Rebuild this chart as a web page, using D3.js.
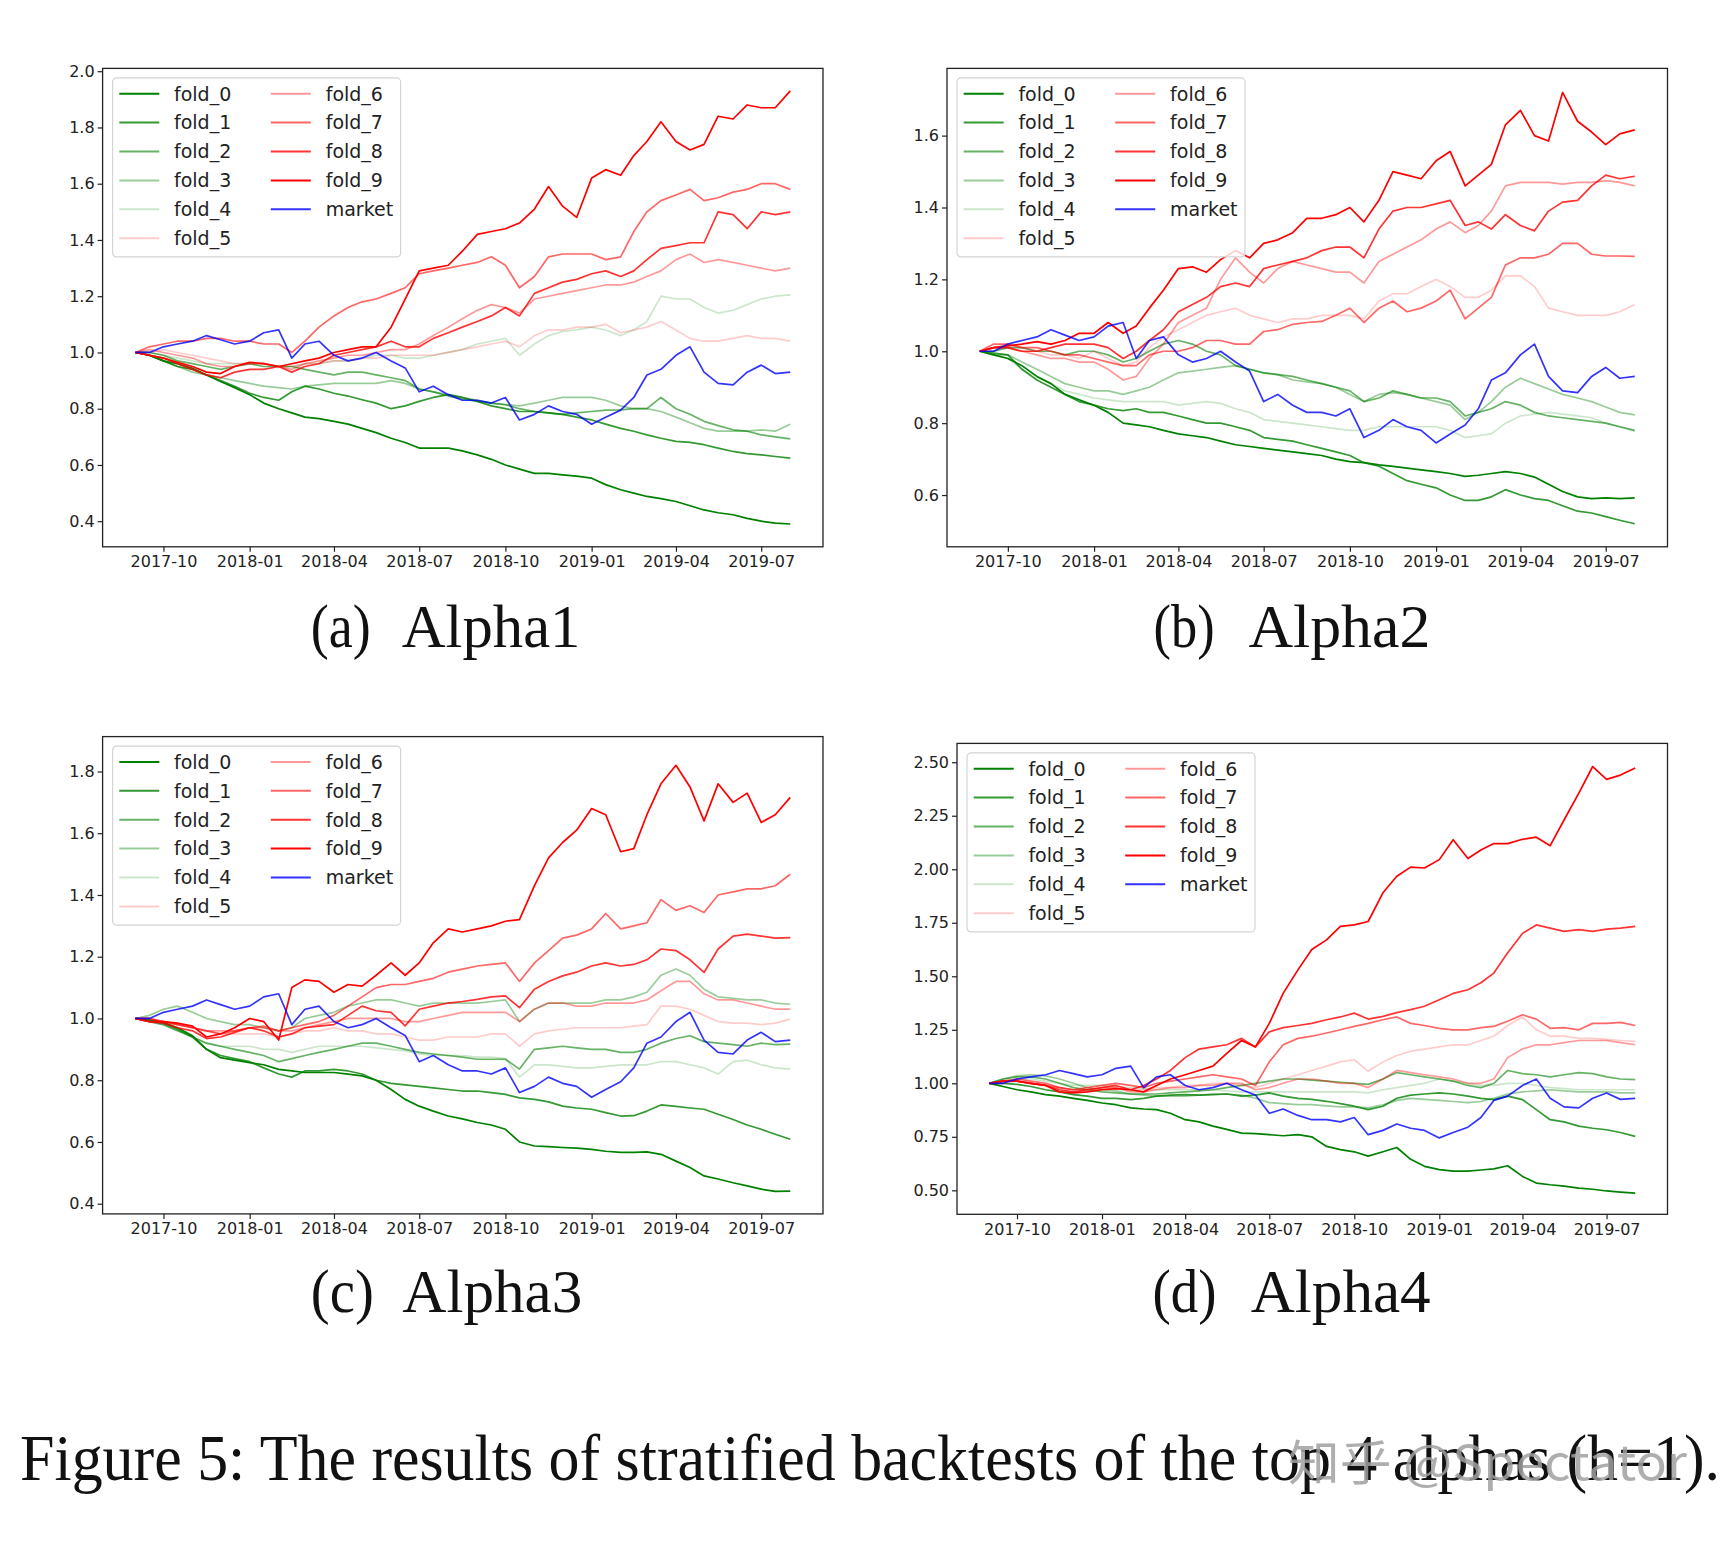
<!DOCTYPE html>
<html>
<head>
<meta charset="utf-8">
<script src="https://cdn.jsdelivr.net/npm/d3@7"></script>
<style>
  body { margin: 0; background: #fff; }
</style>
</head>
<body>
<div id="chart"></div>
<script>
// semi-monthly sampling dates
var dates = [
  "2017-09-01","2017-09-16","2017-10-01","2017-10-16","2017-11-01","2017-11-16","2017-12-01","2017-12-16",
  "2018-01-01","2018-01-16","2018-02-01","2018-02-15","2018-03-01","2018-03-16","2018-04-01","2018-04-16",
  "2018-05-01","2018-05-16","2018-06-01","2018-06-16","2018-07-01","2018-07-16","2018-08-01","2018-08-16",
  "2018-09-01","2018-09-16","2018-10-01","2018-10-16","2018-11-01","2018-11-16","2018-12-01","2018-12-16",
  "2019-01-01","2019-01-16","2019-02-01","2019-02-15","2019-03-01","2019-03-16","2019-04-01","2019-04-16",
  "2019-05-01","2019-05-16","2019-06-01","2019-06-16","2019-07-01","2019-07-16","2019-08-01"
];

var foldNames = ["fold_0","fold_1","fold_2","fold_3","fold_4","fold_5","fold_6","fold_7","fold_8","fold_9"];

// the market curve is the same in every panel
var market = [
  1.00, 1.00, 1.02, 1.03, 1.04, 1.06, 1.045, 1.03,
  1.04, 1.07, 1.08, 0.98, 1.03, 1.04, 0.99, 0.97, 0.98, 1.0, 0.97, 0.945, 0.86, 0.88, 0.85, 0.83, 0.83, 0.82, 0.84, 0.76, 0.78, 0.81, 0.79, 0.78,
  0.745, 0.77, 0.795, 0.84, 0.92, 0.94, 0.99, 1.02, 0.93, 0.89, 0.885, 0.93, 0.955, 0.925, 0.93
];

// (a) Alpha1
var alpha1 = [
  [1.0, 0.99, 0.97, 0.96, 0.944, 0.92, 0.897, 0.875,
   0.85, 0.82, 0.80, 0.785, 0.77, 0.765, 0.755, 0.745, 0.73, 0.715, 0.695, 0.68, 0.66, 0.66, 0.66, 0.65, 0.636, 0.62, 0.60, 0.585, 0.57, 0.57, 0.565, 0.56,
   0.553, 0.53, 0.512, 0.50, 0.488, 0.48, 0.47, 0.455, 0.44, 0.43, 0.423, 0.41, 0.40, 0.393, 0.39],
  [1.0, 0.99, 0.97, 0.95, 0.94, 0.92, 0.90, 0.88,
   0.855, 0.84, 0.83, 0.86, 0.88, 0.87, 0.855, 0.845, 0.832, 0.82, 0.80, 0.81, 0.826, 0.84, 0.85, 0.84, 0.826, 0.81, 0.80, 0.79, 0.79, 0.785, 0.78, 0.77,
   0.76, 0.745, 0.73, 0.72, 0.707, 0.695, 0.684, 0.68, 0.672, 0.66, 0.648, 0.64, 0.636, 0.63, 0.624],
  [1.0, 1.0, 0.99, 0.97, 0.96, 0.95, 0.94, 0.95,
   0.96, 0.95, 0.95, 0.95, 0.94, 0.93, 0.92, 0.93, 0.93, 0.92, 0.91, 0.90, 0.87, 0.86, 0.845, 0.835, 0.826, 0.82, 0.814, 0.80, 0.79, 0.785, 0.78, 0.785,
   0.79, 0.795, 0.796, 0.80, 0.80, 0.84, 0.80, 0.78, 0.755, 0.74, 0.725, 0.72, 0.707, 0.70, 0.693],
  [1.0, 0.99, 0.97, 0.95, 0.93, 0.92, 0.91, 0.90,
   0.89, 0.88, 0.875, 0.87, 0.88, 0.885, 0.89, 0.89, 0.89, 0.89, 0.90, 0.89, 0.87, 0.86, 0.85, 0.84, 0.83, 0.82, 0.815, 0.81, 0.82, 0.83, 0.84, 0.84,
   0.84, 0.83, 0.81, 0.80, 0.80, 0.79, 0.77, 0.75, 0.73, 0.72, 0.72, 0.72, 0.725, 0.72, 0.745],
  [1.0, 1.0, 0.99, 0.98, 0.97, 0.96, 0.96, 0.96,
   0.96, 0.96, 0.95, 0.95, 0.96, 0.96, 0.97, 0.97, 0.98, 0.99, 0.99, 0.98, 0.98, 0.99, 1.0, 1.01, 1.03, 1.04, 1.05, 0.99, 1.03, 1.06, 1.075, 1.08,
   1.09, 1.08, 1.06, 1.08, 1.11, 1.20, 1.19, 1.19, 1.16, 1.14, 1.15, 1.17, 1.19, 1.20, 1.205],
  [1.0, 1.0, 1.01, 1.0, 0.99, 0.98, 0.97, 0.96,
   0.96, 0.96, 0.95, 0.95, 0.96, 0.96, 0.97, 0.97, 0.98, 0.98, 0.99, 0.99, 0.99, 0.99, 1.0, 1.01, 1.02, 1.03, 1.04, 1.02, 1.06, 1.08, 1.08, 1.09,
   1.09, 1.10, 1.07, 1.08, 1.09, 1.11, 1.08, 1.05, 1.04, 1.04, 1.05, 1.06, 1.05, 1.05, 1.04],
  [1.0, 1.01, 1.0, 0.99, 0.98, 0.96, 0.95, 0.95,
   0.96, 0.96, 0.95, 0.94, 0.96, 0.97, 0.98, 0.99, 0.99, 1.0, 1.01, 1.01, 1.03, 1.06, 1.09, 1.12, 1.15, 1.17, 1.16, 1.14, 1.19, 1.20, 1.21, 1.22,
   1.23, 1.24, 1.24, 1.25, 1.27, 1.29, 1.33, 1.35, 1.32, 1.33, 1.32, 1.31, 1.30, 1.29, 1.30],
  [1.0, 1.02, 1.03, 1.04, 1.04, 1.05, 1.05, 1.04,
   1.04, 1.03, 1.03, 1.0, 1.04, 1.09, 1.13, 1.16, 1.18, 1.19, 1.21, 1.23, 1.28, 1.29, 1.30, 1.31, 1.32, 1.34, 1.31, 1.23, 1.27, 1.34, 1.35, 1.35,
   1.35, 1.33, 1.34, 1.43, 1.50, 1.54, 1.56, 1.58, 1.54, 1.55, 1.57, 1.58, 1.60, 1.60, 1.58],
  [1.0, 0.99, 0.98, 0.96, 0.94, 0.92, 0.91, 0.93,
   0.94, 0.94, 0.95, 0.93, 0.95, 0.96, 0.99, 1.0, 1.01, 1.02, 1.04, 1.02, 1.02, 1.05, 1.07, 1.09, 1.11, 1.13, 1.16, 1.13, 1.21, 1.23, 1.25, 1.26,
   1.28, 1.29, 1.27, 1.29, 1.33, 1.37, 1.38, 1.39, 1.39, 1.50, 1.49, 1.44, 1.50, 1.49, 1.50],
  [1.0, 0.99, 0.98, 0.965, 0.95, 0.93, 0.925, 0.95,
   0.965, 0.96, 0.95, 0.96, 0.97, 0.98, 1.0, 1.01, 1.02, 1.02, 1.09, 1.19, 1.29, 1.30, 1.31, 1.36, 1.42, 1.43, 1.44, 1.46, 1.51, 1.59, 1.52, 1.48,
   1.62, 1.65, 1.63, 1.70, 1.75, 1.82, 1.75, 1.72, 1.74, 1.84, 1.83, 1.88, 1.87, 1.87, 1.93]
];

// (b) Alpha2
var alpha2 = [
  [1.0, 0.99, 0.98, 0.96, 0.93, 0.91, 0.88, 0.865,
   0.85, 0.83, 0.80, 0.795, 0.79, 0.78, 0.77, 0.765, 0.76, 0.75, 0.74, 0.735, 0.73, 0.725, 0.72, 0.715, 0.71, 0.70, 0.693, 0.69, 0.684, 0.68, 0.675, 0.67,
   0.665, 0.66, 0.652, 0.655, 0.66, 0.665, 0.66, 0.65, 0.63, 0.61, 0.595, 0.59, 0.592, 0.59, 0.592],
  [1.0, 0.995, 0.99, 0.95, 0.92, 0.90, 0.88, 0.86,
   0.85, 0.84, 0.835, 0.84, 0.83, 0.83, 0.82, 0.81, 0.80, 0.80, 0.79, 0.78, 0.76, 0.755, 0.75, 0.74, 0.73, 0.72, 0.71, 0.69, 0.68, 0.66, 0.64, 0.63,
   0.62, 0.60, 0.585, 0.585, 0.595, 0.615, 0.60, 0.59, 0.585, 0.57, 0.555, 0.55, 0.54, 0.53, 0.52],
  [1.0, 1.0, 1.01, 1.01, 1.0, 1.0, 0.99, 1.0,
   1.0, 0.99, 0.97, 0.98, 1.0, 1.02, 1.03, 1.02, 1.0, 0.99, 0.96, 0.95, 0.94, 0.935, 0.93, 0.92, 0.91, 0.90, 0.89, 0.86, 0.87, 0.89, 0.88, 0.87,
   0.87, 0.86, 0.82, 0.83, 0.84, 0.86, 0.85, 0.83, 0.82, 0.815, 0.81, 0.805, 0.80, 0.79, 0.78],
  [1.0, 0.99, 0.99, 0.97, 0.95, 0.93, 0.91, 0.90,
   0.89, 0.89, 0.88, 0.89, 0.90, 0.92, 0.94, 0.945, 0.95, 0.955, 0.96, 0.95, 0.94, 0.935, 0.92, 0.915, 0.91, 0.90, 0.88, 0.86, 0.88, 0.885, 0.88, 0.87,
   0.86, 0.85, 0.81, 0.83, 0.86, 0.90, 0.925, 0.91, 0.895, 0.88, 0.87, 0.86, 0.845, 0.83, 0.823],
  [1.0, 0.99, 0.98, 0.95, 0.93, 0.91, 0.89, 0.88,
   0.87, 0.865, 0.86, 0.86, 0.86, 0.86, 0.85, 0.855, 0.86, 0.855, 0.84, 0.83, 0.81, 0.805, 0.80, 0.795, 0.79, 0.785, 0.78, 0.78, 0.79, 0.79, 0.79, 0.79,
   0.79, 0.78, 0.76, 0.765, 0.77, 0.80, 0.82, 0.825, 0.83, 0.825, 0.82, 0.815, 0.80, 0.79, 0.777],
  [1.0, 1.01, 1.02, 1.01, 1.0, 0.99, 0.99, 0.98,
   1.0, 0.98, 0.96, 0.97, 1.01, 1.04, 1.06, 1.08, 1.10, 1.11, 1.12, 1.10, 1.09, 1.08, 1.09, 1.09, 1.10, 1.10, 1.10, 1.09, 1.14, 1.16, 1.16, 1.18,
   1.20, 1.18, 1.15, 1.15, 1.17, 1.21, 1.21, 1.18, 1.12, 1.11, 1.10, 1.10, 1.10, 1.11, 1.13],
  [1.0, 1.01, 1.01, 1.0, 0.99, 0.98, 0.98, 0.97,
   0.97, 0.95, 0.92, 0.93, 0.98, 1.02, 1.08, 1.10, 1.12, 1.20, 1.26, 1.22, 1.19, 1.23, 1.25, 1.24, 1.23, 1.22, 1.22, 1.19, 1.25, 1.27, 1.29, 1.31,
   1.34, 1.36, 1.33, 1.35, 1.39, 1.46, 1.47, 1.47, 1.47, 1.465, 1.47, 1.47, 1.475, 1.47, 1.46],
  [1.0, 1.02, 1.02, 1.01, 1.01, 1.0, 0.99, 0.99,
   0.98, 0.97, 0.96, 0.96, 0.99, 1.0, 1.0, 1.01, 1.03, 1.03, 1.02, 1.02, 1.055, 1.06, 1.075, 1.08, 1.083, 1.10, 1.12, 1.08, 1.12, 1.14, 1.11, 1.12,
   1.14, 1.17, 1.09, 1.12, 1.15, 1.24, 1.26, 1.26, 1.27, 1.30, 1.30, 1.27, 1.265, 1.265, 1.264],
  [1.0, 1.01, 1.01, 1.0, 1.0, 1.01, 1.02, 1.02,
   1.02, 1.01, 0.98, 1.0, 1.03, 1.06, 1.11, 1.13, 1.15, 1.18, 1.19, 1.18, 1.23, 1.24, 1.25, 1.26, 1.28, 1.29, 1.29, 1.26, 1.34, 1.39, 1.40, 1.40,
   1.41, 1.42, 1.35, 1.36, 1.34, 1.38, 1.35, 1.335, 1.39, 1.415, 1.42, 1.46, 1.49, 1.48, 1.487],
  [1.0, 1.01, 1.015, 1.02, 1.027, 1.02, 1.03, 1.05,
   1.05, 1.08, 1.05, 1.07, 1.12, 1.17, 1.23, 1.235, 1.22, 1.255, 1.28, 1.26, 1.30, 1.31, 1.33, 1.37, 1.37, 1.38, 1.40, 1.36, 1.42, 1.50, 1.49, 1.48,
   1.53, 1.556, 1.46, 1.49, 1.52, 1.63, 1.67, 1.60, 1.585, 1.72, 1.64, 1.61, 1.575, 1.605, 1.616]
];

// (c) Alpha3
var alpha3 = [
  [1.0, 0.995, 0.987, 0.97, 0.944, 0.90, 0.873, 0.865,
   0.857, 0.85, 0.835, 0.83, 0.825, 0.825, 0.825, 0.82, 0.814, 0.80, 0.77, 0.738, 0.716, 0.70, 0.684, 0.675, 0.663, 0.655, 0.641, 0.60, 0.587, 0.585, 0.582, 0.58,
   0.576, 0.57, 0.566, 0.566, 0.568, 0.56, 0.538, 0.517, 0.49, 0.48, 0.468, 0.458, 0.447, 0.44, 0.441],
  [1.0, 0.995, 0.985, 0.965, 0.94, 0.90, 0.88, 0.87,
   0.86, 0.84, 0.82, 0.81, 0.83, 0.83, 0.835, 0.83, 0.82, 0.80, 0.79, 0.785, 0.78, 0.775, 0.77, 0.765, 0.765, 0.76, 0.754, 0.743, 0.738, 0.73, 0.716, 0.71,
   0.706, 0.695, 0.684, 0.685, 0.70, 0.72, 0.715, 0.71, 0.706, 0.69, 0.673, 0.655, 0.641, 0.625, 0.609],
  [1.0, 0.99, 0.98, 0.96, 0.94, 0.92, 0.91, 0.90,
   0.89, 0.88, 0.86, 0.87, 0.88, 0.89, 0.90, 0.91, 0.92, 0.92, 0.91, 0.90, 0.89, 0.885, 0.88, 0.875, 0.868, 0.868, 0.868, 0.836, 0.90, 0.905, 0.91, 0.905,
   0.90, 0.90, 0.89, 0.89, 0.90, 0.92, 0.935, 0.944, 0.925, 0.92, 0.915, 0.91, 0.92, 0.915, 0.917],
  [1.0, 1.01, 1.03, 1.04, 1.02, 1.0, 0.99, 0.98,
   0.98, 0.97, 0.96, 0.97, 1.0, 1.01, 1.02, 1.04, 1.05, 1.06, 1.06, 1.05, 1.04, 1.05, 1.05, 1.05, 1.05, 1.055, 1.06, 0.99, 1.03, 1.05, 1.05, 1.05,
   1.05, 1.06, 1.06, 1.07, 1.085, 1.14, 1.16, 1.14, 1.095, 1.07, 1.065, 1.06, 1.06, 1.05, 1.046],
  [1.0, 0.99, 0.98, 0.96, 0.94, 0.92, 0.91, 0.91,
   0.91, 0.90, 0.90, 0.89, 0.90, 0.91, 0.91, 0.91, 0.91, 0.905, 0.90, 0.895, 0.885, 0.88, 0.88, 0.88, 0.875, 0.875, 0.87, 0.81, 0.85, 0.85, 0.845, 0.84,
   0.84, 0.845, 0.85, 0.85, 0.85, 0.86, 0.86, 0.85, 0.84, 0.82, 0.86, 0.865, 0.85, 0.84, 0.836],
  [1.0, 1.0, 0.99, 0.98, 0.97, 0.96, 0.95, 0.95,
   0.95, 0.95, 0.94, 0.95, 0.96, 0.96, 0.97, 0.96, 0.96, 0.95, 0.95, 0.94, 0.93, 0.93, 0.94, 0.94, 0.94, 0.95, 0.95, 0.91, 0.95, 0.96, 0.965, 0.97,
   0.97, 0.97, 0.97, 0.975, 0.98, 1.04, 1.04, 1.03, 1.01, 0.99, 0.985, 0.985, 0.98, 0.985, 0.998],
  [1.0, 1.0, 0.99, 0.98, 0.97, 0.96, 0.96, 0.96,
   0.97, 0.97, 0.96, 0.96, 0.97, 0.98, 0.99, 1.0, 1.0, 1.0, 1.0, 0.99, 0.99, 1.0, 1.01, 1.02, 1.02, 1.02, 1.02, 0.99, 1.03, 1.05, 1.05, 1.04,
   1.04, 1.05, 1.05, 1.05, 1.06, 1.09, 1.12, 1.12, 1.08, 1.06, 1.06, 1.05, 1.04, 1.03, 1.03],
  [1.0, 1.0, 0.99, 0.98, 0.97, 0.96, 0.95, 0.96,
   0.97, 0.975, 0.96, 0.97, 0.98, 0.99, 1.01, 1.04, 1.07, 1.10, 1.11, 1.11, 1.12, 1.13, 1.15, 1.16, 1.17, 1.175, 1.18, 1.12, 1.18, 1.22, 1.26, 1.27,
   1.29, 1.34, 1.29, 1.30, 1.31, 1.385, 1.35, 1.365, 1.343, 1.40, 1.41, 1.42, 1.42, 1.43, 1.467],
  [1.0, 0.99, 0.985, 0.97, 0.96, 0.935, 0.94, 0.955,
   0.97, 0.96, 0.94, 0.95, 0.97, 0.975, 0.98, 1.01, 1.04, 1.025, 1.02, 0.976, 1.03, 1.04, 1.05, 1.055, 1.062, 1.07, 1.073, 1.035, 1.095, 1.12, 1.138, 1.15,
   1.17, 1.18, 1.17, 1.175, 1.19, 1.225, 1.22, 1.19, 1.149, 1.225, 1.267, 1.273, 1.267, 1.26, 1.262],
  [1.0, 0.99, 0.99, 0.985, 0.975, 0.94, 0.95, 0.97,
   1.0, 0.99, 0.93, 1.10, 1.125, 1.12, 1.085, 1.11, 1.105, 1.14, 1.18, 1.14, 1.18, 1.245, 1.29, 1.28, 1.29, 1.30, 1.315, 1.32, 1.43, 1.52, 1.57, 1.61,
   1.68, 1.66, 1.54, 1.55, 1.66, 1.76, 1.82, 1.75, 1.64, 1.76, 1.70, 1.73, 1.635, 1.66, 1.716]
];

// (d) Alpha4
var alpha4 = [
  [1.0, 0.985, 0.97, 0.96, 0.947, 0.94, 0.93, 0.92,
   0.908, 0.90, 0.885, 0.88, 0.877, 0.86, 0.83, 0.82, 0.80, 0.785, 0.767, 0.765, 0.76, 0.755, 0.76, 0.75, 0.705, 0.69, 0.68, 0.66, 0.68, 0.70, 0.645, 0.612,
   0.597, 0.59, 0.59, 0.595, 0.60, 0.615, 0.565, 0.534, 0.526, 0.52, 0.51, 0.505, 0.497, 0.492, 0.487],
  [1.0, 1.0, 0.995, 0.985, 0.97, 0.96, 0.947, 0.94,
   0.93, 0.93, 0.924, 0.93, 0.94, 0.945, 0.947, 0.945, 0.947, 0.95, 0.94, 0.945, 0.955, 0.94, 0.93, 0.925, 0.916, 0.905, 0.893, 0.877, 0.893, 0.93, 0.945, 0.95,
   0.955, 0.95, 0.94, 0.93, 0.924, 0.94, 0.924, 0.877, 0.83, 0.82, 0.80, 0.79, 0.783, 0.77, 0.752],
  [1.0, 1.02, 1.03, 1.03, 1.02, 1.0, 0.98, 0.97,
   0.96, 0.955, 0.95, 0.95, 0.95, 0.955, 0.96, 0.965, 0.97, 0.98, 0.99, 1.0, 1.01, 1.02, 1.02, 1.015, 1.01, 1.005, 1.0, 0.995, 1.02, 1.05, 1.04, 1.03,
   1.02, 1.01, 0.99, 0.98, 1.0, 1.06, 1.045, 1.04, 1.03, 1.04, 1.05, 1.045, 1.03, 1.02, 1.017],
  [1.0, 1.02, 1.035, 1.04, 1.035, 1.02, 1.0, 0.98,
   0.97, 0.965, 0.95, 0.945, 0.94, 0.94, 0.94, 0.945, 0.95, 0.95, 0.945, 0.93, 0.91, 0.905, 0.90, 0.90, 0.895, 0.89, 0.89, 0.885, 0.90, 0.92, 0.93, 0.925,
   0.92, 0.915, 0.91, 0.915, 0.93, 0.95, 0.96, 0.965, 0.97, 0.965, 0.96, 0.96, 0.96, 0.955, 0.955],
  [1.0, 1.01, 1.02, 1.02, 1.01, 1.0, 0.99, 0.99,
   0.99, 0.985, 0.98, 0.975, 0.97, 0.97, 0.97, 0.97, 0.97, 0.965, 0.96, 0.96, 0.96, 0.96, 0.96, 0.96, 0.96, 0.96, 0.96, 0.955, 0.97, 0.98, 0.99, 1.0,
   1.02, 1.01, 1.0, 0.99, 0.99, 1.0, 1.0, 0.99, 0.98, 0.975, 0.97, 0.97, 0.97, 0.97, 0.97],
  [1.0, 1.0, 1.01, 1.0, 0.99, 0.98, 0.97, 0.97,
   0.975, 0.98, 0.97, 0.97, 0.98, 0.98, 0.99, 0.99, 1.0, 1.0, 0.99, 0.98, 1.0, 1.02, 1.04, 1.06, 1.08, 1.10, 1.11, 1.056, 1.10, 1.13, 1.15, 1.16,
   1.17, 1.18, 1.18, 1.20, 1.22, 1.27, 1.31, 1.25, 1.22, 1.22, 1.21, 1.21, 1.205, 1.20, 1.196],
  [1.0, 1.01, 1.01, 1.0, 0.99, 0.98, 0.97, 0.97,
   0.98, 0.98, 0.96, 0.96, 0.97, 0.98, 0.98, 0.99, 0.99, 1.0, 1.0, 0.97, 0.98, 1.0, 1.02, 1.02, 1.01, 1.0, 1.0, 0.98, 1.02, 1.06, 1.05, 1.04,
   1.03, 1.02, 1.0, 1.0, 1.02, 1.12, 1.16, 1.18, 1.18, 1.19, 1.20, 1.20, 1.20, 1.19, 1.18],
  [1.0, 1.01, 1.02, 1.01, 1.0, 0.98, 0.97, 0.98,
   0.99, 1.0, 0.99, 0.98, 1.0, 1.01, 1.02, 1.03, 1.04, 1.03, 1.02, 0.99, 1.10, 1.18, 1.21, 1.22, 1.235, 1.25, 1.266, 1.28, 1.297, 1.31, 1.28, 1.27,
   1.257, 1.25, 1.25, 1.26, 1.266, 1.29, 1.32, 1.30, 1.257, 1.26, 1.25, 1.28, 1.28, 1.285, 1.27],
  [1.0, 1.01, 1.01, 1.0, 0.99, 0.97, 0.96, 0.97,
   0.98, 0.99, 0.97, 0.99, 1.02, 1.06, 1.12, 1.16, 1.17, 1.18, 1.21, 1.17, 1.24, 1.26, 1.27, 1.28, 1.297, 1.31, 1.328, 1.30, 1.313, 1.33, 1.344, 1.36,
   1.39, 1.42, 1.437, 1.47, 1.515, 1.61, 1.70, 1.74, 1.725, 1.71, 1.718, 1.71, 1.72, 1.725, 1.733],
  [1.0, 1.01, 1.01, 1.0, 0.99, 0.96, 0.955, 0.96,
   0.97, 0.975, 0.97, 0.96, 0.99, 1.02, 1.04, 1.06, 1.08, 1.14, 1.20, 1.17, 1.28, 1.42, 1.53, 1.625, 1.67, 1.733, 1.74, 1.756, 1.89, 1.967, 2.01, 2.006,
   2.045, 2.138, 2.05, 2.09, 2.12, 2.12, 2.14, 2.15, 2.11, 2.23, 2.356, 2.48, 2.42, 2.44, 2.473]
];

var xTickLabels = ["2017-10","2018-01","2018-04","2018-07","2018-10","2019-01","2019-04","2019-07"];
var yTicksA = [0.4, 0.6, 0.8, 1.0, 1.2, 1.4, 1.6, 1.8, 2.0];
var yTicksB = [0.6, 0.8, 1.0, 1.2, 1.4, 1.6];
var yTicksC = [0.4, 0.6, 0.8, 1.0, 1.2, 1.4, 1.6, 1.8];
var yTicksD = [0.50, 0.75, 1.00, 1.25, 1.50, 1.75, 2.00, 2.25, 2.50];

var svgWidth = 1729;
var svgHeight = 1542;

var svg = d3.select("#chart")
  .append("svg")
  .attr("width", svgWidth)
  .attr("height", svgHeight);

svg.append("rect")
  .attr("width", svgWidth)
  .attr("height", svgHeight)
  .attr("fill", "#fff");

// axes boxes and y limits
var panels = [
  { data: alpha1, ticks: yTicksA, fmt: ".1f", left: 102.6, top: 68.4, right: 823, bottom: 546.8, ylim: [0.309, 2.01],
    tag: "(a)", name: "Alpha1", tagX: 310.7, tagW: 60, nameX: 401.8, nameW: 178.6, base: 647 },
  { data: alpha2, ticks: yTicksB, fmt: ".1f", left: 947, top: 68.4, right: 1667.5, bottom: 546.8, ylim: [0.456, 1.787],
    tag: "(b)", name: "Alpha2", tagX: 1153.6, tagW: 61, nameX: 1248.4, nameW: 182, base: 647 },
  { data: alpha3, ticks: yTicksC, fmt: ".1f", left: 102.6, top: 736.6, right: 823, bottom: 1213.9, ylim: [0.367, 1.913],
    tag: "(c)", name: "Alpha3", tagX: 310.8, tagW: 63, nameX: 402.3, nameW: 180, base: 1312 },
  { data: alpha4, ticks: yTicksD, fmt: ".2f", left: 957, top: 743.4, right: 1667.5, bottom: 1214.3, ylim: [0.388, 2.588],
    tag: "(d)", name: "Alpha4", tagX: 1152.6, tagW: 64, nameX: 1250.7, nameW: 180, base: 1312 }
];

var parseDate = d3.timeParse("%Y-%m-%d");
var parseMonth = d3.timeParse("%Y-%m");
var parsedDates = dates.map(parseDate);
var first = parsedDates[0], last = parsedDates[parsedDates.length - 1];
var pad = (last - first) * 0.05;
var xDomain = [new Date(+first - pad), new Date(+last + pad)];

function foldColor(i) {
  return i < 5 ? "green" : "red";
}
function foldOpacity(i) {
  return i < 5 ? 1 - i * 0.2 : (i - 4) * 0.2;
}

panels.forEach(function(p, pi) {
  var x = d3.scaleTime().domain(xDomain).range([p.left, p.right]);
  var y = d3.scaleLinear().domain(p.ylim).range([p.bottom, p.top]);

  var g = svg.append("g");

  svg.append("clipPath")
    .attr("id", "clip" + pi)
    .append("rect")
    .attr("x", p.left)
    .attr("y", p.top)
    .attr("width", p.right - p.left)
    .attr("height", p.bottom - p.top);

  var line = d3.line()
    .x(function(d, i) { return x(parsedDates[i]); })
    .y(function(d) { return y(d); });

  var lines = g.append("g").attr("clip-path", "url(#clip" + pi + ")");

  p.data.forEach(function(series, i) {
    lines.append("path")
      .datum(series)
      .attr("d", line)
      .attr("fill", "none")
      .attr("stroke", foldColor(i))
      .attr("stroke-opacity", foldOpacity(i))
      .attr("stroke-width", 1.7)
      .attr("stroke-linejoin", "round");
  });

  lines.append("path")
    .datum(market)
    .attr("d", line)
    .attr("fill", "none")
    .attr("stroke", "blue")
    .attr("stroke-opacity", 0.8)
    .attr("stroke-width", 1.7)
    .attr("stroke-linejoin", "round");

  // axes
  var xAxis = g.append("g")
    .attr("transform", "translate(0," + p.bottom + ")")
    .call(d3.axisBottom(x)
      .tickValues(xTickLabels.map(parseMonth))
      .tickFormat(d3.timeFormat("%Y-%m"))
      .tickSize(5)
      .tickPadding(4));

  var yAxis = g.append("g")
    .attr("transform", "translate(" + p.left + ",0)")
    .call(d3.axisLeft(y)
      .tickValues(p.ticks)
      .tickFormat(d3.format(p.fmt))
      .tickSize(5)
      .tickPadding(3));

  [xAxis, yAxis].forEach(function(ax) {
    ax.select(".domain").remove();
    ax.selectAll(".tick line").attr("stroke", "#222").attr("stroke-width", 1.2);
    ax.selectAll(".tick text")
      .attr("fill", "#222")
      .style("font-family", "'DejaVu Sans', sans-serif")
      .style("font-size", "16px");
  });

  g.append("rect")
    .attr("x", p.left)
    .attr("y", p.top)
    .attr("width", p.right - p.left)
    .attr("height", p.bottom - p.top)
    .attr("fill", "none")
    .attr("stroke", "#222")
    .attr("stroke-width", 1.3);

  // legend
  var legend = g.append("g")
    .attr("transform", "translate(" + (p.left + 10) + "," + (p.top + 9.5) + ")");

  legend.append("rect")
    .attr("width", 288)
    .attr("height", 179)
    .attr("rx", 4)
    .attr("fill", "#fff")
    .attr("fill-opacity", 0.8)
    .attr("stroke", "#d4d4d4")
    .attr("stroke-width", 1.2);

  var items = foldNames.map(function(n, i) {
    return { name: n, color: foldColor(i), opacity: foldOpacity(i) };
  });
  items.push({ name: "market", color: "blue", opacity: 0.8 });

  items.forEach(function(it, i) {
    var col = i < 6 ? 0 : 1;
    var row = i < 6 ? i : i - 6;
    var cy = 15.8 + row * 28.9;
    var hx = 6.7 + col * 151.5;
    legend.append("line")
      .attr("x1", hx)
      .attr("x2", hx + 40)
      .attr("y1", cy)
      .attr("y2", cy)
      .attr("stroke", it.color)
      .attr("stroke-opacity", it.opacity)
      .attr("stroke-width", 2);
    legend.append("text")
      .attr("x", 61.4 + col * 151.7)
      .attr("y", cy)
      .attr("dy", "0.36em")
      .attr("fill", "#222")
      .style("font-family", "'DejaVu Sans', sans-serif")
      .style("font-size", "19px")
      .text(it.name);
  });

  // sub caption
  svg.append("text")
    .attr("x", p.tagX)
    .attr("y", p.base)
    .attr("textLength", p.tagW)
    .attr("lengthAdjust", "spacingAndGlyphs")
    .style("font-family", "'Liberation Serif', 'Times New Roman', serif")
    .style("font-size", "62px")
    .attr("fill", "#111")
    .text(p.tag);

  svg.append("text")
    .attr("x", p.nameX)
    .attr("y", p.base)
    .attr("textLength", p.nameW)
    .attr("lengthAdjust", "spacingAndGlyphs")
    .style("font-family", "'Liberation Serif', 'Times New Roman', serif")
    .style("font-size", "62px")
    .attr("fill", "#111")
    .text(p.name);
});

// figure caption
svg.append("text")
  .attr("x", 20)
  .attr("y", 1480)
  .attr("textLength", 1700)
  .attr("lengthAdjust", "spacingAndGlyphs")
  .style("font-family", "'Liberation Serif', 'Times New Roman', serif")
  .style("font-size", "66px")
  .attr("fill", "#111")
  .text("Figure 5: The results of stratified backtests of the top 4 alphas (h=1).");

// watermark over the caption
svg.append("text")
  .attr("x", 1288)
  .attr("y", 1480)
  .attr("textLength", 399)
  .attr("lengthAdjust", "spacingAndGlyphs")
  .style("font-family", "'Noto Sans CJK SC', 'Noto Sans', sans-serif")
  .style("font-size", "48px")
  .attr("fill", "#a0a0a0")
  .attr("fill-opacity", 0.85)
  .text("知乎 @Spectator");
</script>
</body>
</html>
